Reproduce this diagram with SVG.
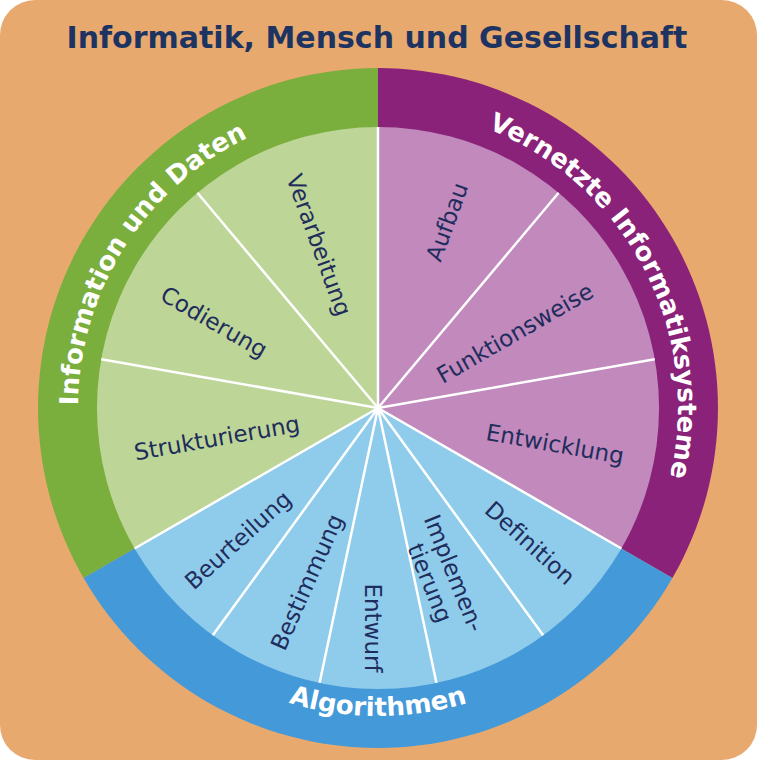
<svg xmlns="http://www.w3.org/2000/svg" xmlns:xlink="http://www.w3.org/1999/xlink" width="757" height="760" viewBox="0 0 757 760">
<style>
.seg{font-family:"DejaVu Sans",sans-serif;font-size:23px;fill:#1F2D5C;text-anchor:middle;dominant-baseline:central}
.ring{font-family:"DejaVu Sans",sans-serif;font-size:26px;font-weight:bold;fill:#fff;text-anchor:middle}
.sep{stroke:#fff;stroke-width:2.5}
</style>
<defs>
<path id="pg" d="M118.2 558 A300 300 0 0 1 378 108"/>
<path id="pp" d="M378 108 A300 300 0 0 1 637.8 558"/>
<path id="pb" d="M111.3 562 A308 308 0 0 0 644.7 562"/>
</defs>
<rect x="0" y="0" width="757" height="760" rx="35" fill="#E8A96E"/>
<text x="377" y="48" font-family="DejaVu Sans,sans-serif" font-size="30" font-weight="bold" fill="#1D3462" text-anchor="middle">Informatik, Mensch und Gesellschaft</text>
<g id="ring-green"><path d="M378 408 L83.6 578 A340 340 0 0 1 378 68 Z" fill="#7AAE3D"/><text class="ring"><textPath xlink:href="#pg" startOffset="52%">Information und Daten</textPath></text></g>
<g id="ring-purple"><path d="M378 408 L378 68 A340 340 0 0 1 672.4 578 Z" fill="#8A2279"/><text class="ring"><textPath xlink:href="#pp" startOffset="52%">Vernetzte Informatiksysteme</textPath></text></g>
<g id="ring-blue"><path d="M378 408 L672.4 578 A340 340 0 0 1 83.6 578 Z" fill="#4499D8"/><text class="ring"><textPath xlink:href="#pb" startOffset="50%">Algorithmen</textPath></text></g>
<g id="inner-green"><path d="M378 408 L134.6 548.5 A281 281 0 0 1 378 127 Z" fill="#BDD597"/></g>
<g id="inner-purple"><path d="M378 408 L378 127 A281 281 0 0 1 621.4 548.5 Z" fill="#C189BC"/></g>
<g id="inner-blue"><path d="M378 408 L621.4 548.5 A281 281 0 0 1 134.6 548.5 Z" fill="#8FCBEB"/></g>
<g id="connectors">
<line class="sep" x1="378" y1="408" x2="378" y2="127"/>
<line class="sep" x1="378" y1="408" x2="558.6" y2="192.8"/>
<line class="sep" x1="378" y1="408" x2="654.7" y2="359.2"/>
<line class="sep" x1="378" y1="408" x2="621.4" y2="548.5"/>
<line class="sep" x1="378" y1="408" x2="543.2" y2="635.3"/>
<line class="sep" x1="378" y1="408" x2="436.4" y2="682.8"/>
<line class="sep" x1="378" y1="408" x2="319.6" y2="682.8"/>
<line class="sep" x1="378" y1="408" x2="212.8" y2="635.3"/>
<line class="sep" x1="378" y1="408" x2="134.6" y2="548.5"/>
<line class="sep" x1="378" y1="408" x2="101.3" y2="359.2"/>
<line class="sep" x1="378" y1="408" x2="197.4" y2="192.8"/>
</g>
<g id="verarbeitung"><text class="seg" transform="translate(319 245) rotate(70)">Verarbeitung</text></g>
<g id="codierung"><text class="seg" transform="translate(214 322) rotate(30)">Codierung</text></g>
<g id="strukturierung"><text class="seg" transform="translate(217 438) rotate(-10)">Strukturierung</text></g>
<g id="aufbau"><text class="seg" transform="translate(447 222) rotate(-70)">Aufbau</text></g>
<g id="funktionsweise"><text class="seg" transform="translate(515 333) rotate(-30)">Funktionsweise</text></g>
<g id="entwicklung"><text class="seg" transform="translate(555 444) rotate(10)">Entwicklung</text></g>
<g id="definition"><text class="seg" transform="translate(530 543) rotate(42)">Definition</text></g>
<g id="implementierung"><text class="seg" transform="translate(442 578) rotate(68)"><tspan x="0" y="-13">Implemen-</tspan><tspan x="0" y="13">tierung</tspan></text></g>
<g id="entwurf"><text class="seg" transform="translate(373 628) rotate(90)">Entwurf</text></g>
<g id="bestimmung"><text class="seg" transform="translate(307 582) rotate(-66)">Bestimmung</text></g>
<g id="beurteilung"><text class="seg" transform="translate(238 540) rotate(-42)">Beurteilung</text></g>
</svg>
